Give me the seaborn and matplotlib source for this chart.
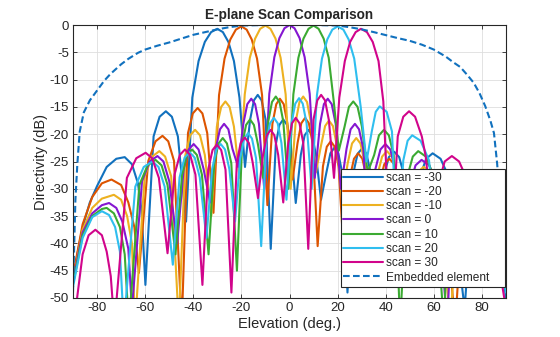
import numpy as np
import pandas as pd
import matplotlib
matplotlib.use("Agg")
import matplotlib.pyplot as plt
from matplotlib.lines import Line2D
from matplotlib.patches import Rectangle
import seaborn as sns

# ---------------- data ----------------
labels = ["scan = -30", "scan = -20", "scan = -10", "scan = 0",
          "scan = 10", "scan = 20", "scan = 30"]
colors = ["#1171BE", "#DD5400", "#EDB120", "#8516D1",
          "#3BAA32", "#2FBEEF", "#D1048B"]

scan_m30_el = [-90, -86, -83, -80, -76, -72, -68.5, -65.5, -63, -61.5, -59.9, -56.5, -54.0, -51.4, -48.9, -46.4, -43.0,
               -40.4, -37.8, -35.2, -32.6, -30.0, -27.7, -25.4, -23.1, -20.8, -18.5, -16.4, -14.8, -13.2, -11.6, -9.9, -7.8,
               -5.7, -4.2, -2.6, -1.0, 0.5, 2.6, 4.7, 6.3, 7.9, 9.4, 11.0, 13.1, 15.3, 17.0, 18.6, 20.3, 21.9, 24.1,
               26.5, 28.3, 30.2, 32.0, 33.8, 36.2, 39.1, 41.3, 43.5, 45.6, 47.8, 50.7, 54.0, 56.8, 59.5, 62.8, 66.5, 72.8,
               75, 78, 81, 84, 87, 90]
scan_m30_db = [-46, -37, -32.5, -29.5, -26, -24.5, -24.2, -25.5, -29, -34, -47.6, -20.4, -16.8, -15.8, -16.8, -20.4, -36,
               -13.3, -6.6, -3.1, -1.3, -0.7, -1.3, -3.1, -6.6, -13.3, -26, -17.4, -13.8, -12.8, -13.8, -17.4, -41,
               -21.9, -18.3, -17.3, -18.3, -21.9, -32.6, -23.8, -20.2, -19.2, -20.2, -23.8, -32, -27.1, -23.5, -22.5, -23.5, -27.1, -49,
               -27.2, -23.6, -22.6, -23.6, -27.2, -40, -27.8, -24.2, -23.2, -24.2, -27.8, -42, -28.1, -24.5, -23.5, -24.5, -28.1, -52,
               -38, -34, -33, -35, -40, -50]

scan_m20_el = [-90, -86, -82, -78, -74, -70, -67, -64.5, -62.6, -58.7, -55.7, -52.8, -50.4, -48.0, -44.8,
               -42.2, -40.2, -38.2, -36.2, -34.2, -31.6, -29.3, -27.0, -24.6, -22.3, -20.0, -17.8, -15.7, -13.5, -11.4, -9.2,
               -7.1, -5.5, -4.0, -2.4, -0.85, 1.3, 3.35, 4.9, 6.5, 8.05, 9.6, 11.7, 13.9, 15.5, 17.15, 18.8, 20.4, 22.6,
               25.0, 26.8, 28.55, 30.3, 32.1, 34.5, 37.3, 39.4, 41.5, 43.6, 45.7, 48.5, 51.9, 54.5, 57.1, 60.6, 64.2, 68.9,
               71, 74, 78, 82, 86, 90]
scan_m20_db = [-46, -36.5, -31.5, -29, -28.3, -29.3, -32.5, -37, -45.4, -24.9, -21.3, -20.3, -21.3, -24.9, -55,
               -19.8, -16.2, -15.2, -16.2, -19.8, -34.4, -12.85, -6.15, -2.65, -0.85, -0.25, -0.85, -2.65, -6.15, -12.85, -33,
               -18.1, -14.5, -13.5, -14.5, -18.1, -28.3, -21.6, -18, -17, -18, -21.6, -40.5, -25.9, -22.3, -21.3, -22.3, -25.9, -42,
               -28.1, -24.5, -23.5, -24.5, -28.1, -42, -29.1, -25.5, -24.5, -25.5, -29.1, -40, -31.1, -27.5, -26.5, -27.5, -31.1, -55,
               -40, -33, -31, -32, -36, -48]

scan_m10_el = [-90, -86, -82, -78, -73, -70, -67.5, -65.5, -64.2, -60.2, -57.1, -54.1, -51.7, -49.2, -46.0,
               -43.3, -41.3, -39.25, -37.2, -35.2, -32.5, -30.2, -28.4, -26.65, -24.9, -23.1, -20.8,
               -18.6, -16.5, -14.3, -12.2, -10.0, -7.9, -5.8, -3.7, -1.6, 0.47, 2.57, 4.14, 5.7, 7.28, 8.85, 10.95,
               13.1, 14.8, 16.4, 18.05, 19.7, 21.85, 24.2, 26.0, 27.75, 29.5, 31.3, 33.65, 36.4, 38.5, 40.5, 42.6, 44.65, 47.4,
               50.7, 53.2, 55.7, 59.0, 62.4, 66.8, 69, 72, 76, 80, 84, 87, 90]
scan_m10_db = [-47, -37.5, -33.5, -31.8, -31.1, -32, -35, -40, -55, -27.7, -24.1, -23.1, -24.1, -27.7, -55,
               -23.8, -20.2, -19.2, -20.2, -23.8, -35, -18.6, -15, -14, -15, -18.6, -28,
               -12.7, -6.0, -2.5, -0.7, -0.1, -0.7, -2.5, -6.0, -12.7, -30, -17.7, -14.1, -13.1, -14.1, -17.7, -27,
               -22.1, -18.5, -17.5, -18.5, -22.1, -32, -25.3, -21.7, -20.7, -21.7, -25.3, -40, -27.7, -24.1, -23.1, -24.1, -27.7, -40,
               -30.6, -27, -26, -27, -30.6, -55, -40, -34, -32, -32.5, -35.5, -40, -48]

scan_0_el = [-90, -86, -82, -78, -75, -72, -69.5, -67, -65.5, -61.3, -58.1, -54.9, -52.4, -50.0, -46.7,
             -44.0, -41.9, -39.85, -37.8, -35.7, -33.0, -30.7, -28.9, -27.2, -25.4, -23.7, -21.35,
             -19.2, -17.55, -15.9, -14.3, -12.7, -10.5, -8.4, -6.3, -4.2, -2.1, 0, 2.1, 4.2, 6.3, 8.4, 10.5,
             12.7, 14.3, 15.9, 17.55, 19.2, 21.35, 23.7, 25.4, 27.2, 28.9, 30.7, 33.0, 35.7, 37.8, 39.85, 41.9, 44.0, 46.7,
             50.0, 52.4, 54.9, 58.1, 61.3, 65.5, 67, 69.5, 72, 75, 78, 82, 86, 90]
scan_0_db = [-47, -38, -34.5, -33, -32.6, -33.5, -36, -41, -52, -28.6, -25, -24, -25, -28.6, -40,
             -26.4, -22.8, -21.8, -22.8, -26.4, -32.5, -22.7, -19.1, -18.1, -19.1, -22.7, -26,
             -18.1, -14.5, -13.5, -14.5, -18.1, -30, -12.6, -5.9, -2.4, -0.6, 0, -0.6, -2.4, -5.9, -12.6, -28,
             -18.1, -14.5, -13.5, -14.5, -18.1, -30, -22.7, -19.1, -18.1, -19.1, -22.7, -40, -26.4, -22.8, -21.8, -22.8, -26.4, -45,
             -29.3, -25.7, -24.7, -25.7, -29.3, -55, -41, -36, -33.5, -32.6, -33, -34.5, -38, -47]

scan_p10_el = [-90, -86, -82, -78, -76, -73, -70.5, -68.5, -66.8, -62.4, -59.0, -55.7, -53.2, -50.7, -47.4,
               -44.65, -42.6, -40.5, -38.5, -36.4, -33.65, -31.3, -29.5, -27.75, -26.0, -24.2, -21.85,
               -19.7, -18.05, -16.4, -14.8, -13.1, -10.95, -8.85, -7.28, -5.7, -4.14, -2.57, -0.47,
               1.6, 3.7, 5.8, 7.9, 10.0, 12.1, 14.2, 16.3, 18.4, 20.5, 22.9, 24.7, 26.5, 28.3, 30.1, 32.5,
               35.2, 37.2, 39.25, 41.3, 43.3, 46.0, 49.0, 51.25, 53.5, 56.7, 59.9, 64.2, 65.5, 68, 72, 76, 80, 84, 87, 90]
scan_p10_db = [-47.5, -38.5, -35, -33.7, -33.5, -34.5, -37, -42, -55, -29.3, -25.7, -24.7, -25.7, -29.3, -42,
               -27.4, -23.8, -22.8, -23.8, -27.4, -42, -25.3, -21.7, -20.7, -21.7, -25.3, -45,
               -21.9, -18.3, -17.3, -18.3, -21.9, -28, -17.7, -14.1, -13.1, -14.1, -17.7, -30,
               -12.7, -6.0, -2.5, -0.7, -0.1, -0.7, -2.5, -6.0, -14, -23, -18.6, -15, -14, -15, -18.6, -27,
               -23.8, -20.2, -19.2, -20.2, -23.8, -55, -27.7, -24.1, -23.1, -24.1, -27.7, -55, -40, -35, -33, -33, -34.5, -37.5, -41, -48]

scan_p20_el = [-90, -86, -82, -78, -75, -72.5, -70.5, -68.9, -64.1, -60.6, -57.0, -54.45, -51.9, -48.5,
               -45.7, -43.6, -41.5, -39.4, -37.3, -34.54, -32.16, -30.4, -28.6, -26.8, -25.0, -22.64,
               -20.5, -18.8, -17.2, -15.6, -13.9, -11.77, -9.67, -8.1, -6.5, -4.9, -3.36, -1.26,
               0.83, 2.4, 3.97, 5.5, 7.1, 9.2, 11.4, 13.5, 15.7, 17.8, 20.0, 22.4, 24.6, 26.9, 29.6, 32.0,
               34.2, 35.85, 37.5, 40.4, 42.6, 44.8, 47.3, 49.1, 51.0, 54.5, 58.0, 62.6, 64.5, 67, 71, 75, 79, 83, 87, 90]
scan_p20_db = [-48, -39, -35.2, -34.1, -34.8, -37, -41.5, -55, -29.6, -26, -25, -26, -29.6, -43.9,
               -27.9, -24.3, -23.3, -24.3, -27.9, -39, -26.4, -22.8, -21.8, -22.8, -26.4, -36,
               -24.4, -20.8, -19.8, -20.8, -24.4, -40.5, -21.6, -18, -17, -18, -21.6, -32,
               -18, -14.4, -13.4, -14.4, -18, -30, -12.85, -6.15, -2.65, -0.85, -0.25, -0.85, -2.65, -6.15, -15, -25,
               -19.5, -15.9, -14.9, -15.9, -19.5, -42, -24.8, -21.2, -20.2, -21.2, -24.8, -45, -36, -31, -29, -29, -30.5, -34, -40, -49]

scan_p30_el = [-90, -88.3, -86, -83.5, -80.7, -78, -76, -74.3, -72.8, -67.6, -63.7, -59.8, -57.1, -54.3, -50.7,
               -47.8, -45.6, -43.45, -41.3, -39.1, -36.2, -33.8, -32.0, -30.2, -28.4, -26.6, -24.15,
               -21.9, -20.3, -18.6, -16.9, -15.3, -13.1, -11.0, -9.4, -7.85, -6.3, -4.7, -2.6,
               -0.52, 1.04, 2.6, 4.16, 5.72, 7.8, 9.94, 11.55, 13.15, 14.76, 16.36, 18.5,
               20.7, 23.0, 25.2, 27.5, 29.7, 32.2, 34.6, 37.0, 39.0, 40.2, 42.5,
               45.0, 47.3, 49.7, 52.2, 55.0, 56.6, 59.9, 62.0, 64.5, 67.5, 70.5, 73.5, 77, 81, 85, 88, 90]
scan_p30_db = [-58, -50, -42, -38.5, -37.5, -38.5, -41.5, -46, -55, -28, -24.4, -23.4, -24.4, -28, -41.8,
               -27.4, -23.8, -22.8, -23.8, -27.4, -47.6, -26.5, -22.9, -21.9, -22.9, -26.5, -49,
               -25.2, -21.6, -20.6, -21.6, -25.2, -31.7, -23.8, -20.2, -19.2, -20.2, -23.8, -32.5,
               -21.6, -18, -17, -18, -21.6, -41, -17.4, -13.8, -12.8, -13.8, -17.4, -28,
               -13.3, -6.6, -3.1, -1.3, -0.7, -1.3, -3.1, -6.6, -14, -26, -40,
               -20.4, -16.8, -15.8, -16.8, -20.4, -24, -38, -29, -25, -24, -25, -28, -32.5, -37.5, -42.5, -46.5, -52]

element_el = [-90, -89.6, -89.0, -88.2, -87.2, -85.5, -83, -80, -77, -74.5, -70, -67, -63, -60, -55, -50, -45, -40,
              -35, -30, -25, -20, -10, 0, 10, 20, 25, 30, 35, 40, 45, 50, 55, 60, 65, 68, 71, 74, 76.6, 79,
              81.4, 83.5, 85, 86.3, 87.7, 88.8, 89.5, 90]
element_db = [-49, -42, -32, -25.5, -19.5, -16, -13.8, -12, -10.2, -9, -7.2, -6.2, -5.1, -4.5, -3.8, -3.2, -2.5, -1.8,
              -1.3, -0.8, -0.4, -0.1, 0, 0, 0, -0.1, -0.4, -0.8, -1.3, -1.85, -2.4, -2.9, -3.6, -4.5, -5.8, -6.8, -7.7, -9.2,
              -10.6, -12.5, -14.9, -17.5, -19.8, -25.3, -33.2, -40, -45, -48.5]

x_ticks = [-80, -60, -40, -20, 0, 20, 40, 60, 80]
y_ticks = [-50, -45, -40, -35, -30, -25, -20, -15, -10, -5, 0]

# ---------------- build long table ----------------
series = [(scan_m30_el, scan_m30_db), (scan_m20_el, scan_m20_db), (scan_m10_el, scan_m10_db),
          (scan_0_el, scan_0_db), (scan_p10_el, scan_p10_db), (scan_p20_el, scan_p20_db),
          (scan_p30_el, scan_p30_db)]
frames = []
for lab, (el, db) in zip(labels, series):
    frames.append(pd.DataFrame({"Elevation": el, "Directivity": db, "series": lab}))
df = pd.concat(frames, ignore_index=True)
elem_df = pd.DataFrame({"Elevation": element_el, "Directivity": element_db})

# ---------------- style ----------------
sns.set_theme(style="ticks")
plt.rcParams["font.family"] = ["Liberation Sans", "DejaVu Sans"]
plt.rcParams["axes.unicode_minus"] = False
axis_col = "#262626"

fig = plt.figure(figsize=(5.6, 3.37), dpi=100)
ax = fig.add_axes([73 / 560, 1 - 298 / 337, 433 / 560, 273 / 337])

palette = dict(zip(labels, colors))
sns.lineplot(data=df, x="Elevation", y="Directivity", hue="series", hue_order=labels,
             palette=palette, sort=False, estimator=None, units="series",
             linewidth=1.5, legend=False, ax=ax)
sns.lineplot(data=elem_df, x="Elevation", y="Directivity", color=colors[0], sort=False,
             estimator=None, linewidth=1.5, linestyle=(0, (3.2, 1.6)), legend=False, ax=ax)

ax.set_xlim(-90, 90)
ax.set_ylim(-50, 0)
ax.set_xticks(x_ticks)
ax.set_yticks(y_ticks)
ax.grid(True, color="#dedede", linewidth=0.6)
ax.set_axisbelow(True)
for sp in ax.spines.values():
    sp.set_visible(True)
    sp.set_color(axis_col)
    sp.set_linewidth(0.8)
ax.tick_params(direction="in", length=3, width=0.6, colors=axis_col, labelsize=9.5,
               top=True, right=True, pad=3)
ax.set_xlabel("Elevation (deg.)", fontsize=10.5, color=axis_col, labelpad=2)
ax.set_ylabel("Directivity (dB)", fontsize=10.5, color=axis_col, labelpad=1)
ax.set_title("E-plane Scan Comparison", fontsize=9.8, fontweight="bold", pad=4)

# legend box (MATLAB-like: extra room on the right)
box_x0, box_y0 = (340.7 - 73) / 433, (298 - 286.7) / 273
box_x1, box_y1 = (505 - 73) / 433, (298 - 169.3) / 273
frame = Rectangle((box_x0, box_y0), box_x1 - box_x0, box_y1 - box_y0, transform=ax.transAxes,
                  facecolor="white", edgecolor=axis_col, linewidth=0.8, zorder=4.9, clip_on=False)
ax.add_artist(frame)

handles = [Line2D([], [], color=c, linewidth=1.5) for c in colors]
handles.append(Line2D([], [], color=colors[0], linewidth=1.5, linestyle=(0, (3.2, 1.6))))
leg = ax.legend(handles, labels + ["Embedded element"], loc="upper left",
                bbox_to_anchor=(box_x0, box_y1), borderaxespad=0, fontsize=8.6,
                labelspacing=0.19, handlelength=3.3, handletextpad=0.3, borderpad=0.2,
                frameon=False)
leg.set_zorder(5)

fig.savefig("out.png", dpi=100)
